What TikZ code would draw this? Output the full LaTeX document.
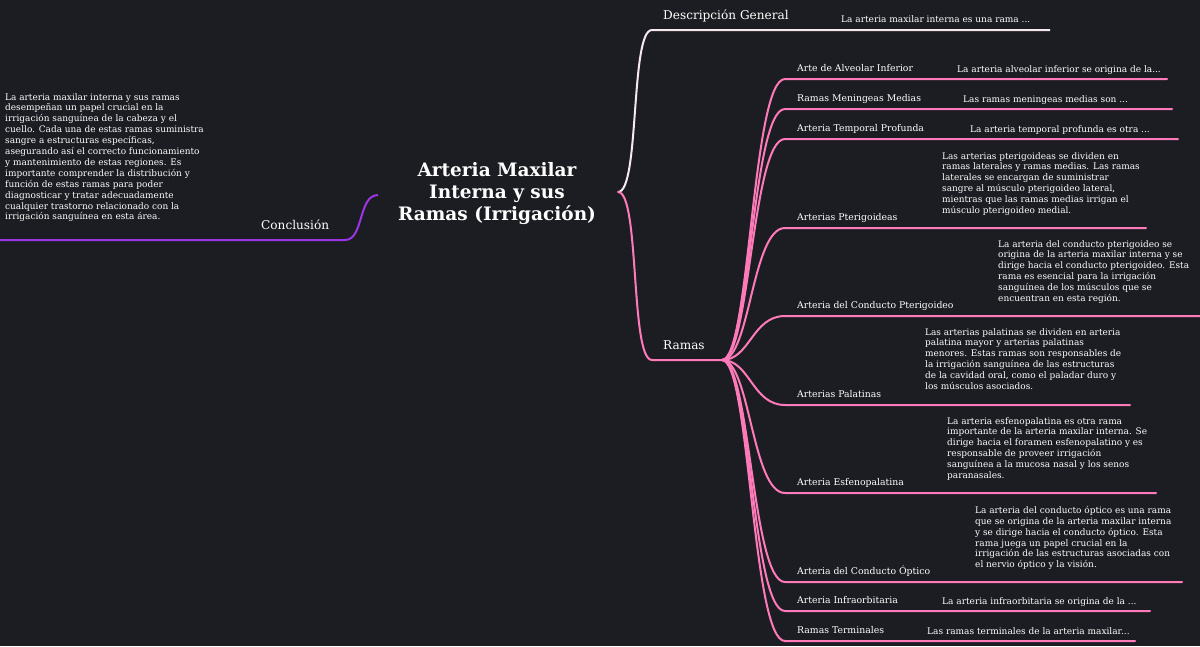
\documentclass[tikz,border=0pt]{standalone}
\usepackage{fontspec}
\setmainfont{DejaVu Serif}
\definecolor{bg}{HTML}{1C1D22}
\definecolor{pk}{HTML}{FF7AB8}
\definecolor{pu}{HTML}{9B35E6}
\definecolor{wp}{HTML}{F6E8EE}
\begin{document}
\begin{tikzpicture}[x=1pt,y=-1pt,
  lab/.style={text=white,anchor=base west,inner sep=0pt,font=\fontsize{9.3}{12}\selectfont},
  big/.style={lab,font=\fontsize{12.1}{14}\selectfont},
  sdesc/.style={lab,font=\fontsize{9}{12}\selectfont},
  desc/.style={text=white,anchor=north west,inner sep=0pt,align=left,font=\fontsize{8.95}{10.9}\selectfont},
  plink/.style={pk,line width=2pt,line cap=round},
]
\fill[bg] (0,0) rectangle (1200,646);
\useasboundingbox (0,0) rectangle (1200,646);
\node[text=white,align=center,font=\bfseries\fontsize{18.5}{22}\selectfont] (main) at (497,194) {Arteria Maxilar\\Interna y sus\\Ramas (Irrigación)};
\coordinate (mr) at (618,192);
\coordinate (ml) at (378,195);
% Descripción
\node[big] (dg) at (663,19) {Descripción General};
\node[sdesc] (dgd) at (841,22) {La arteria maxilar interna es una rama ...};
\coordinate (dge) at (1050,30);
\draw[wp,line width=2pt] (mr) .. controls (640,192) and (630,30) .. (652,30) -- (dge);
% Ramas
\node[big] (ra) at (663,349) {Ramas};
\coordinate (hub) at (722,360);
\draw[plink] (mr) .. controls (640,192) and (630,360) .. (652,360) -- (hub);
% Conclusión
\node[big] (co) at (261,229) {Conclusión};
\draw[pu,line width=2pt] (ml) .. controls (358,195) and (364,240) .. (345,240) -- (0,240);
\node[desc] (cod) at (5,93) {La arteria maxilar interna y sus ramas\\desempeñan un papel crucial en la\\irrigación sanguínea de la cabeza y el\\cuello. Cada una de estas ramas suministra\\sangre a estructuras específicas,\\asegurando así el correcto funcionamiento\\y mantenimiento de estas regiones. Es\\importante comprender la distribución y\\función de estas ramas para poder\\diagnosticar y tratar adecuadamente\\cualquier trastorno relacionado con la\\irrigación sanguínea en esta área.};
% children
\foreach \n/\t/\ly/\ex in {
 a/Arte de Alveolar Inferior/79/1167,
 b/Ramas Meningeas Medias/109/1172,
 c/Arteria Temporal Profunda/139/1178,
 d/Arterias Pterigoideas/228/1146,
 e/Arteria del Conducto Pterigoideo/316/1200,
 f/Arterias Palatinas/405/1130,
 g/Arteria Esfenopalatina/493/1156,
 h/Arteria del Conducto Óptico/582/1182,
 i/Arteria Infraorbitaria/611/1150,
 j/Ramas Terminales/641/1135}{
 \node[lab] (\n) at (797,\ly-8) {\t};
 \coordinate (\n e) at (\ex,\ly);
 \draw[plink] (hub) .. controls (750,360) and (752,\ly) .. (785,\ly) -- (\n e);
}
\node[sdesc] (ad) at (957,72) {La arteria alveolar inferior se origina de la...};
\node[sdesc] (bd) at (963,102) {Las ramas meningeas medias son ...};
\node[sdesc] (cd) at (970,132) {La arteria temporal profunda es otra ...};
\node[desc] (dd) at (942,152) {Las arterias pterigoideas se dividen en\\ramas laterales y ramas medias. Las ramas\\laterales se encargan de suministrar\\sangre al músculo pterigoideo lateral,\\mientras que las ramas medias irrigan el\\músculo pterigoideo medial.};
\node[desc] (ed) at (998,240) {La arteria del conducto pterigoideo se\\origina de la arteria maxilar interna y se\\dirige hacia el conducto pterigoideo. Esta\\rama es esencial para la irrigación\\sanguínea de los músculos que se\\encuentran en esta región.};
\node[desc] (fd) at (925,328) {Las arterias palatinas se dividen en arteria\\palatina mayor y arterias palatinas\\menores. Estas ramas son responsables de\\la irrigación sanguínea de las estructuras\\de la cavidad oral, como el paladar duro y\\los músculos asociados.};
\node[desc] (gd) at (947,417) {La arteria esfenopalatina es otra rama\\importante de la arteria maxilar interna. Se\\dirige hacia el foramen esfenopalatino y es\\responsable de proveer irrigación\\sanguínea a la mucosa nasal y los senos\\paranasales.};
\node[desc] (hd) at (975,506) {La arteria del conducto óptico es una rama\\que se origina de la arteria maxilar interna\\y se dirige hacia el conducto óptico. Esta\\rama juega un papel crucial en la\\irrigación de las estructuras asociadas con\\el nervio óptico y la visión.};
\node[sdesc] (id) at (942,604) {La arteria infraorbitaria se origina de la ...};
\node[sdesc] (jd) at (927,634) {Las ramas terminales de la arteria maxilar...};
\end{tikzpicture}
\end{document}
